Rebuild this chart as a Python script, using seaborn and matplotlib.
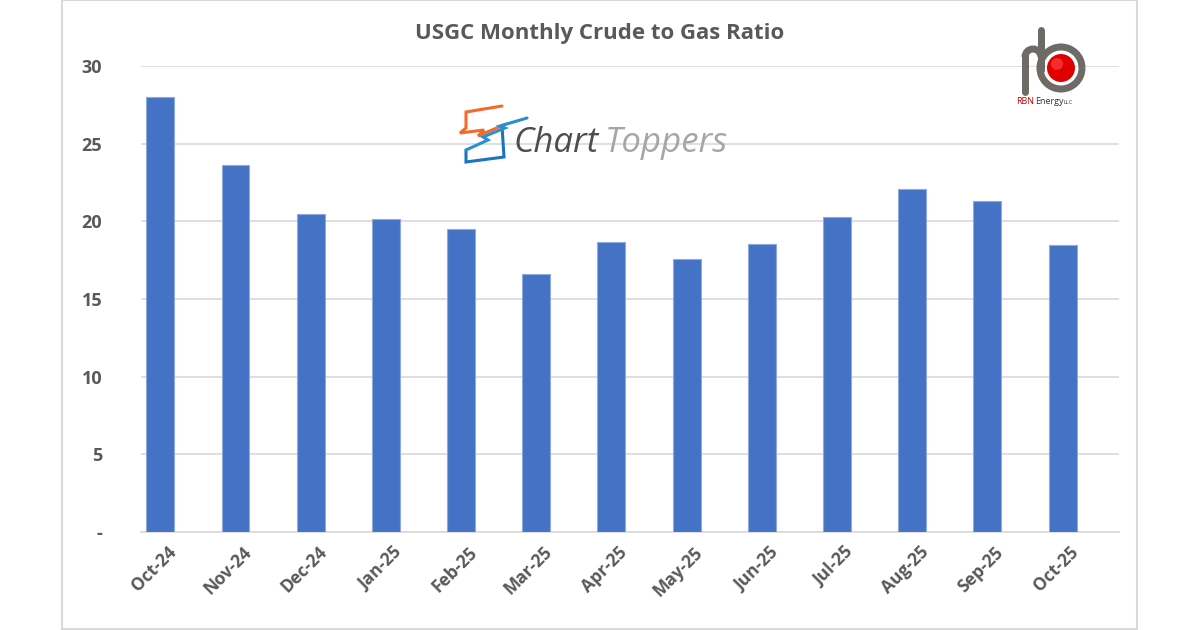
import matplotlib
matplotlib.use("Agg")
import matplotlib.pyplot as plt
import matplotlib.transforms as mtransforms
import seaborn as sns
import pandas as pd
import numpy as np
from matplotlib.patches import Rectangle, Ellipse, Arc
from matplotlib.lines import Line2D

months = ["Oct-24", "Nov-24", "Dec-24", "Jan-25", "Feb-25", "Mar-25", "Apr-25",
          "May-25", "Jun-25", "Jul-25", "Aug-25", "Sep-25", "Oct-25"]
ratio = [28.0, 23.65, 20.46, 20.13, 19.49, 16.59, 18.65, 17.58, 18.52, 20.30, 22.09, 21.29, 18.46]
yticks = [0, 5, 10, 15, 20, 25, 30]
ytick_labels = ["-", "5", "10", "15", "20", "25", "30"]
title = "USGC Monthly Crude to Gas Ratio"

sns.set_theme(style="white")
plt.rcParams["font.family"] = ["Open Sans", "DejaVu Sans"]

W, H = 1200, 630
fig = plt.figure(figsize=(12, 6.3), dpi=100)
fig.patch.set_facecolor("white")

def fx(x):
    return x / W

def fy(y):
    return 1 - y / H

ax = fig.add_axes([fx(141), fy(532), fx(1119) - fx(141), fy(66) - fy(532)])
df = pd.DataFrame({"month": months, "ratio": ratio})
sns.barplot(data=df, x="month", y="ratio", color="#4472C4", width=0.372,
            saturation=1, ax=ax, edgecolor="#8FAADC", linewidth=0.8, zorder=3)
ax.set_ylim(0, 30)
ax.set_xlim(-0.257, len(months) - 1 + 0.75)
ax.set_yticks(yticks)
ax.set_yticklabels(ytick_labels)
ax.set_xlabel("")
ax.set_ylabel("")
ax.grid(axis="y", color="#D9D9D9", linewidth=1.2, zorder=0)
ax.grid(axis="x", visible=False)
for s in ["top", "right", "left"]:
    ax.spines[s].set_visible(False)
ax.spines["bottom"].set_color("#D9D9D9")
ax.spines["bottom"].set_linewidth(1.2)
ax.tick_params(axis="both", length=0, colors="#595959")
ax.tick_params(axis="y", pad=28)
ax.tick_params(axis="x", pad=8)
for lab in ax.get_yticklabels():
    lab.set_fontsize(13)
    lab.set_fontweight("bold")
    lab.set_color("#595959")
offset = mtransforms.ScaledTranslation(7 / 100, 0, fig.dpi_scale_trans)
for lab in ax.get_xticklabels():
    lab.set_fontsize(12.5)
    lab.set_fontweight("bold")
    lab.set_color("#595959")
    lab.set_rotation(45)
    lab.set_ha("right")
    lab.set_rotation_mode("anchor")
    lab.set_transform(lab.get_transform() + offset)

fig.text(fx(600), fy(33), title, ha="center", va="center", fontsize=16,
         fontweight="bold", color="#595959")

# chart border
fig.patches.append(Rectangle((fx(62), fy(629)), fx(1137) - fx(62), fy(0) - fy(629),
                             transform=fig.transFigure, fill=False,
                             edgecolor="#D9D9D9", linewidth=1.5, zorder=10))

# Chart Toppers logo
tf = fig.transFigure
def pline(pts, color, lw):
    xs = [fx(p[0]) for p in pts]
    ys = [fy(p[1]) for p in pts]
    fig.lines.append(Line2D(xs, ys, transform=tf, color=color, linewidth=lw,
                            solid_joinstyle="miter", zorder=11))

pline([(502, 106), (466, 112), (466, 128), (460, 133), (484, 130), (478, 136), (506, 124)], "#F26B2A", 2.2)
pline([(466, 150), (466, 162), (504, 157), (502, 126)], "#1B75BB", 2.2)
pline([(466, 150), (488, 140), (483, 137), (505, 128), (500, 126), (527, 118)], "#2A8FD0", 2.2)
fig.text(fx(513), fy(143), "Chart", ha="left", va="center", fontsize=25,
         style="italic", color="#4D4D4D", family=["Open Sans", "DejaVu Sans"])
fig.text(fx(605), fy(143), "Toppers", ha="left", va="center", fontsize=25,
         style="italic", color="#A6A6A6", family=["Open Sans", "DejaVu Sans"])

# RBN Energy logo
px2pt = 72 / 100
fig.patches.append(Ellipse((fx(1061), fy(68)), 28 / W, 28 / H, transform=tf,
                           facecolor="#E00000", edgecolor="none", zorder=11))
fig.patches.append(Ellipse((fx(1057), fy(64)), 12 / W, 12 / H, transform=tf,
                           facecolor="#FF4040", edgecolor="none", zorder=12, alpha=0.7))
fig.patches.append(Arc((fx(1061), fy(68)), 42 / W, 42 / H, transform=tf,
                       theta1=0, theta2=360, color="#6E6A66",
                       linewidth=7 * px2pt, zorder=12))
pline([(1041, 30), (1041, 70)], "#6E6A66", 7 * px2pt)
pline([(1025, 92), (1025, 57)], "#6E6A66", 7 * px2pt)
fig.patches.append(Arc((fx(1033), fy(57)), 16 / W, 16 / H, transform=tf,
                       theta1=0, theta2=180, color="#6E6A66",
                       linewidth=7 * px2pt, zorder=12))
fig.text(fx(1016), fy(101), "RBN", ha="left", va="center", fontsize=6.5,
         color="#C00000")
fig.text(fx(1035), fy(101), "Energy", ha="left", va="center", fontsize=6.5,
         color="#333333")
fig.text(fx(1064), fy(102), "LLC", ha="left", va="center", fontsize=4,
         color="#333333")

fig.savefig("out.png", dpi=100, facecolor="white")
